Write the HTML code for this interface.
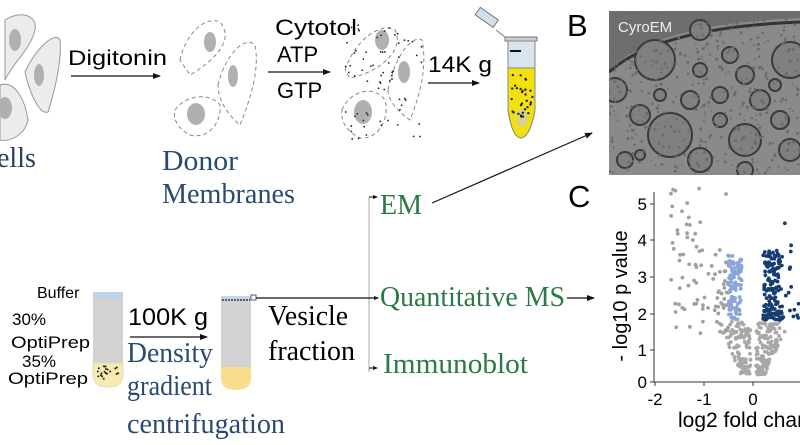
<!DOCTYPE html>
<html><head><meta charset="utf-8"><style>
html,body{margin:0;padding:0;background:#fff;}
svg{display:block;}
.s{font-family:"Liberation Sans",sans-serif;}
.r{font-family:"Liberation Serif",serif;}
</style></head><body>
<svg id="m" width="800" height="445" viewBox="0 0 800 445" xmlns="http://www.w3.org/2000/svg">
<defs>
<marker id="a" markerWidth="8" markerHeight="8" refX="7" refY="4" orient="auto" markerUnits="userSpaceOnUse"><path d="M0,1 L8,4 L0,7 Z" fill="#111"/></marker>
<marker id="a2" markerWidth="5" markerHeight="5" refX="4" refY="2.5" orient="auto" markerUnits="userSpaceOnUse"><path d="M0,0.5 L5,2.5 L0,4.5 Z" fill="#111"/></marker>
<clipPath id="ec"><rect x="609" y="11" width="191" height="164"/></clipPath>
</defs>
<g fill="#ececec" stroke="#999" stroke-width="1">
<path d="M5,20 C20,10 38,15 35,30 C30,50 15,60 5,80 Z"/>
<path d="M25,72 C35,50 55,30 60,40 C62,60 55,90 48,112 C40,115 30,95 25,72 Z"/>
<path d="M0,85 C15,80 25,100 28,120 C25,135 10,142 0,140 Z"/>
</g>
<g fill="#b0b0b0"><ellipse cx="15" cy="40" rx="6" ry="11"/><ellipse cx="39" cy="75" rx="5" ry="11"/><ellipse cx="5" cy="108" rx="7" ry="11"/></g>
<text x="-3" y="167" class="r" font-size="28" fill="#2a3f5f">ells</text>
<text x="68" y="65" class="s" font-size="21" textLength="99" lengthAdjust="spacingAndGlyphs">Digitonin</text>
<line x1="71" y1="76" x2="160" y2="76" stroke="#111" stroke-width="1.2" marker-end="url(#a)"/>
<g fill="none" stroke="#888" stroke-dasharray="4,3">
<path d="M180,60 C185,35 205,15 220,22 C235,40 215,60 190,75 Z"/>
<path d="M218,85 C225,55 245,35 255,45 C260,70 250,100 240,125 C228,115 218,100 218,85 Z"/>
<path d="M175,110 C185,95 210,92 220,105 C222,120 210,140 190,135 C180,130 172,120 175,110 Z"/>
</g>
<g fill="#b0b0b0"><ellipse cx="210" cy="42" rx="6" ry="10"/><ellipse cx="233" cy="76" rx="5" ry="11"/><ellipse cx="196" cy="114" rx="9" ry="11"/></g>
<text x="162" y="170" class="r" font-size="29" fill="#2a4a72" textLength="76" lengthAdjust="spacingAndGlyphs">Donor</text>
<text x="162" y="203" class="r" font-size="29" fill="#2a4a72" textLength="133" lengthAdjust="spacingAndGlyphs">Membranes</text>
<text x="275" y="35" class="s" font-size="22" textLength="82" lengthAdjust="spacingAndGlyphs">Cytotol</text>
<text x="277" y="62" class="s" font-size="22">ATP</text>
<text x="277" y="98" class="s" font-size="22">GTP</text>
<line x1="268" y1="72" x2="330" y2="72" stroke="#111" stroke-width="1.2" marker-end="url(#a)"/>
<g fill="none" stroke="#888" stroke-dasharray="4,3">
<path d="M345,70 C355,40 380,22 395,30 C405,50 380,72 350,78 Z"/>
<path d="M388,90 C395,55 412,35 422,40 C428,70 418,100 410,120 C398,112 388,100 388,90 Z"/>
<path d="M342,110 C350,90 375,85 385,100 C390,115 380,140 360,138 C348,132 340,122 342,110 Z"/>
</g>
<g fill="#b0b0b0"><ellipse cx="382" cy="40" rx="7" ry="10"/><ellipse cx="404" cy="72" rx="6" ry="11"/><ellipse cx="363" cy="112" rx="9" ry="12"/></g>
<g id="dots1" fill="#222"></g>
<text x="428" y="72" class="s" font-size="22" textLength="64" lengthAdjust="spacingAndGlyphs">14K g</text>
<line x1="428" y1="83" x2="479" y2="83" stroke="#111" stroke-width="1.2" marker-end="url(#a)"/>
<rect x="476" y="13" width="22" height="9" fill="#cfe0ec" stroke="#777" transform="rotate(35 487 17)"/>
<path d="M496,30 L505,37" stroke="#777" fill="none"/>
<rect x="505" y="37" width="32" height="4" fill="#ccc" stroke="#777"/>
<path d="M508,41 L535,41 L535,110 Q530,137 521,138 Q512,137 508,110 Z" fill="#d8e4ee" stroke="#888"/>
<path d="M508,68 L535,68 L535,110 Q530,137 521,138 Q512,137 508,110 Z" fill="#f2e10e" stroke="#888"/>
<line x1="510" y1="51" x2="521" y2="51" stroke="#111" stroke-width="2"/>
<ellipse cx="522" cy="118" rx="6" ry="9" fill="#c8d0b8" opacity="0.7"/>
<g id="dots2" fill="#222"></g>
<text x="567" y="36" class="s" font-size="31">B</text>
<rect x="609" y="11" width="191" height="164" fill="#8a8a8a"/>
<path d="M609,70 C640,40 700,22 800,18 L800,11 L609,11 Z" fill="#6e6e6e" clip-path="url(#ec)"/>
<path d="M609,72 C640,44 700,26 800,22" fill="none" stroke="#333" stroke-width="3" clip-path="url(#ec)"/>
<g id="em" fill="#808080" stroke="#3a3a3a" stroke-width="2" clip-path="url(#ec)"></g>
<g id="emn" fill="#6a6a6a" clip-path="url(#ec)"></g>
<text x="618" y="32" class="s" font-size="15" fill="#eee">CyroEM</text>
<line x1="432" y1="203" x2="592" y2="133" stroke="#111" stroke-width="1.2" marker-end="url(#a)"/>
<text x="568" y="207" class="s" font-size="31">C</text>
<line x1="369" y1="197" x2="369" y2="372" stroke="#aaa" stroke-width="1"/>
<line x1="369" y1="197" x2="377" y2="197" stroke="#111" marker-end="url(#a2)"/>
<line x1="369" y1="368" x2="377" y2="368" stroke="#111" marker-end="url(#a2)"/>
<text x="380" y="214" class="r" font-size="28" fill="#2a7a45" textLength="42" lengthAdjust="spacingAndGlyphs">EM</text>
<text x="380" y="306" class="r" font-size="28" fill="#2a7a45" textLength="185" lengthAdjust="spacingAndGlyphs">Quantitative MS</text>
<text x="383" y="373" class="r" font-size="28" fill="#2a7a45" textLength="145" lengthAdjust="spacingAndGlyphs">Immunoblot</text>
<line x1="567" y1="298" x2="594" y2="298" stroke="#111" stroke-width="1.2" marker-end="url(#a)"/>
<text x="37" y="298" class="s" font-size="16">Buffer</text>
<text x="12" y="325" class="s" font-size="17">30%</text>
<text x="11" y="348" class="s" font-size="17" textLength="79" lengthAdjust="spacingAndGlyphs">OptiPrep</text>
<text x="22" y="367" class="s" font-size="17">35%</text>
<text x="8" y="384" class="s" font-size="17" textLength="80" lengthAdjust="spacingAndGlyphs">OptiPrep</text>
<rect x="93" y="292" width="30" height="6" fill="#bcd3e8"/>
<rect x="93" y="298" width="30" height="65" fill="#d2d2d2"/>
<path d="M93,363 L123,363 L123,375 Q123,387 108,387 Q93,387 93,375 Z" fill="#f7ebb0" stroke="#ddc"/>
<g id="dots3" fill="#222"></g>
<text x="128" y="325" class="s" font-size="24" textLength="80" lengthAdjust="spacingAndGlyphs">100K g</text>
<line x1="130" y1="337" x2="207" y2="337" stroke="#111" stroke-width="1.2" marker-end="url(#a)"/>
<text x="127" y="362" class="r" font-size="28" fill="#2a4a72" textLength="86" lengthAdjust="spacingAndGlyphs">Density</text>
<text x="127" y="395" class="r" font-size="28" fill="#2a4a72" textLength="85" lengthAdjust="spacingAndGlyphs">gradient</text>
<text x="127" y="433" class="r" font-size="28" fill="#2a4a72" textLength="158" lengthAdjust="spacingAndGlyphs">centrifugation</text>
<rect x="221" y="296" width="30" height="5" fill="#c3d8ea"/>
<line x1="222" y1="300" x2="250" y2="300" stroke="#333" stroke-width="1.5" stroke-dasharray="2,1"/>
<rect x="221" y="301" width="30" height="66" fill="#d2d2d2"/>
<path d="M221,367 L251,367 L251,378 Q251,390 236,390 Q221,390 221,378 Z" fill="#f9dc8e"/>
<rect x="251" y="295" width="5" height="5" fill="#fff" stroke="#333" stroke-width="0.8"/>
<line x1="256" y1="298" x2="378" y2="298" stroke="#111" stroke-width="1.2" marker-end="url(#a2)"/>
<text x="268" y="325" class="r" font-size="28" textLength="80" lengthAdjust="spacingAndGlyphs">Vesicle</text>
<text x="268" y="360" class="r" font-size="28" textLength="87" lengthAdjust="spacingAndGlyphs">fraction</text>
<g id="pts"></g>
<line x1="654" y1="192" x2="654" y2="382" stroke="#333"/>
<line x1="654" y1="382" x2="800" y2="382" stroke="#333"/>
<g stroke="#333"><line x1="650" y1="204" x2="654" y2="204"/><line x1="650" y1="240" x2="654" y2="240"/><line x1="650" y1="277" x2="654" y2="277"/><line x1="650" y1="314" x2="654" y2="314"/><line x1="650" y1="350" x2="654" y2="350"/><line x1="650" y1="382" x2="654" y2="382"/>
<line x1="655" y1="382" x2="655" y2="386"/><line x1="704" y1="382" x2="704" y2="386"/><line x1="753" y1="382" x2="753" y2="386"/></g>
<g class="s" font-size="17" text-anchor="end"><text x="647" y="210">5</text><text x="647" y="246">4</text><text x="647" y="283">3</text><text x="647" y="320">2</text><text x="647" y="356">1</text><text x="647" y="388">0</text></g>
<g class="s" font-size="17" text-anchor="middle"><text x="655" y="405">-2</text><text x="704" y="405">-1</text><text x="753" y="405">0</text></g>
<text x="678" y="427" class="s" font-size="21">log2 fold change</text>
<text transform="translate(627,296) rotate(-90)" class="s" font-size="20" text-anchor="middle">- log10 p value</text>
</svg>
<script>
var ns="http://www.w3.org/2000/svg",s=7;function R(){s=(s*9301+49297)%233280;return s/233280;}
function c(g,x,y,r,f){var e=document.createElementNS(ns,"circle");e.setAttribute("cx",x);e.setAttribute("cy",y);e.setAttribute("r",r);if(f)e.setAttribute("fill",f);document.getElementById(g).appendChild(e);}
for(var i=0;i<70;i++){c("dots1",345+R()*80,25+R()*115,0.9);}
for(var i=0;i<30;i++){c("dots2",511+R()*22,72+R()*45,1.2);}
for(var i=0;i<20;i++){c("dots3",97+R()*22,366+R()*14,1);}
var ems=[[655,60,20],[700,30,10],[730,55,8],[790,60,18],[640,115,10],[670,135,22],[745,140,16],[690,100,9],[720,95,8],[760,100,10],[625,160,8],[700,160,12],[640,155,5],[780,120,9],[720,120,7],[660,95,6],[700,70,7],[745,75,9],[775,85,6],[615,90,12],[790,150,11],[745,170,8]];
ems.forEach(function(e){c("em",e[0],e[1],e[2]);});
for(var i=0;i<500;i++){c("emn",609+R()*191,11+R()*164,0.8+R()*0.8);}
function P(fc,p,col){var x=753+fc*49,y=382-p*36.5;if(x<657||x>799)return;c("pts",x,y,1.9,col);}
for(var i=0;i<260;i++){var p=0.2+R()*1.45;var w=0.12+p*0.35;var fc=(R()<0.5?-1:1)*(0.05+R()*w);P(fc,p,"#a8a8a8");}
for(var i=0;i<110;i++){var p=1.7+R()*1.8;var fc=-(0.22+R()*0.3);P(fc,p,"#8aa6d8");}
for(var i=0;i<150;i++){var p=1.7+Math.pow(R(),1.3)*1.9;var fc=0.2+R()*0.4;P(fc,p,"#163d70");}
for(var i=0;i<50;i++){var p=1.7+R()*2.1;var fc=0.55+R()*0.9;P(fc,p,"#163d70");}
for(var i=0;i<80;i++){var fc=-(0.5+R()*1.2);var p=1.3+R()*4;if(p>2.5+(-fc)*1.8)p=1.3+R()*2;P(fc,p,"#a0a0a0");}
P(-1.67,4.55,"#a0a0a0");P(-1.67,2.8,"#a0a0a0");P(-1.1,5.3,"#a0a0a0");P(-0.55,5.15,"#a0a0a0");P(0.65,4.35,"#163d70");
</script>
</body></html>
